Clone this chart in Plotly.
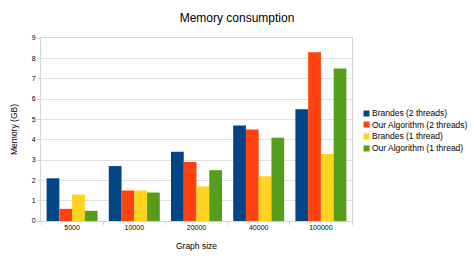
import plotly.graph_objects as go

categories = ["5000", "10000", "20000", "40000", "100000"]
series_names = ["Brandes (2 threads)", "Our Algorithm (2 threads)",
                "Brandes (1 thread)", "Our Algorithm (1 thread)"]
brandes_2 = [2.1, 2.7, 3.4, 4.7, 5.5]
ours_2 = [0.6, 1.5, 2.9, 4.5, 8.3]
brandes_1 = [1.3, 1.5, 1.7, 2.2, 3.3]
ours_1 = [0.5, 1.4, 2.5, 4.1, 7.5]
colors = ["#004586", "#ff420e", "#ffd320", "#579d1c"]
y_ticks = [0, 1, 2, 3, 4, 5, 6, 7, 8, 9]

fig = go.Figure()
for name, vals, c in zip(series_names, [brandes_2, ours_2, brandes_1, ours_1], colors):
    fig.add_trace(go.Bar(x=categories, y=vals, name=name, marker_color=c,
                         marker_line_width=0, showlegend=False))

W, H = 474, 261
L, R, T, B = 41, 122, 38, 40
PW, PH = W - L - R, H - T - B

# Compact legend built from annotations (small colored squares + labels)
legend_top = 113
row_gap = 11.7
annotations = []
for i, (name, c) in enumerate(zip(series_names, colors)):
    yc = legend_top + i * row_gap
    ypaper = (H - B - yc) / PH
    annotations.append(dict(
        xref="paper", yref="paper", x=(366 - L) / PW, y=ypaper,
        xanchor="center", yanchor="middle", text=" ", showarrow=False,
        bgcolor=c, width=5, height=5, borderpad=0, font=dict(size=1)))
    annotations.append(dict(
        xref="paper", yref="paper", x=(371 - L) / PW, y=ypaper,
        xanchor="left", yanchor="middle", text=name, showarrow=False,
        font=dict(size=8.5, color="#000000"), borderpad=0))

fig.update_layout(
    width=W, height=H,
    margin=dict(l=L, r=R, t=T, b=B),
    paper_bgcolor="white", plot_bgcolor="white",
    font=dict(family="Liberation Sans", size=7, color="#000000"),
    title=dict(text="Memory consumption", x=0.5, xanchor="center",
               y=1 - 18 / H, yanchor="middle",
               font=dict(size=12, color="#000000")),
    barmode="group", bargap=0.18, bargroupgap=0,
    showlegend=False,
    annotations=annotations,
)
fig.update_xaxes(
    title=dict(text="Graph size", font=dict(size=8.5), standoff=12),
    showline=True, linecolor="#d4d4d4", mirror=True,
    ticks="outside", ticklen=3, tickcolor="#d4d4d4",
    showgrid=False, tickson="boundaries",
)
fig.update_yaxes(
    title=dict(text="Memory (GB)", font=dict(size=8.5), standoff=12),
    range=[0, 9], tickvals=y_ticks,
    showline=True, linecolor="#d4d4d4", mirror=True,
    ticks="outside", ticklen=3, tickcolor="#d4d4d4",
    showgrid=True, gridcolor="#e0e0e0", gridwidth=1, zeroline=False,
)
fig.write_html("out.html")
